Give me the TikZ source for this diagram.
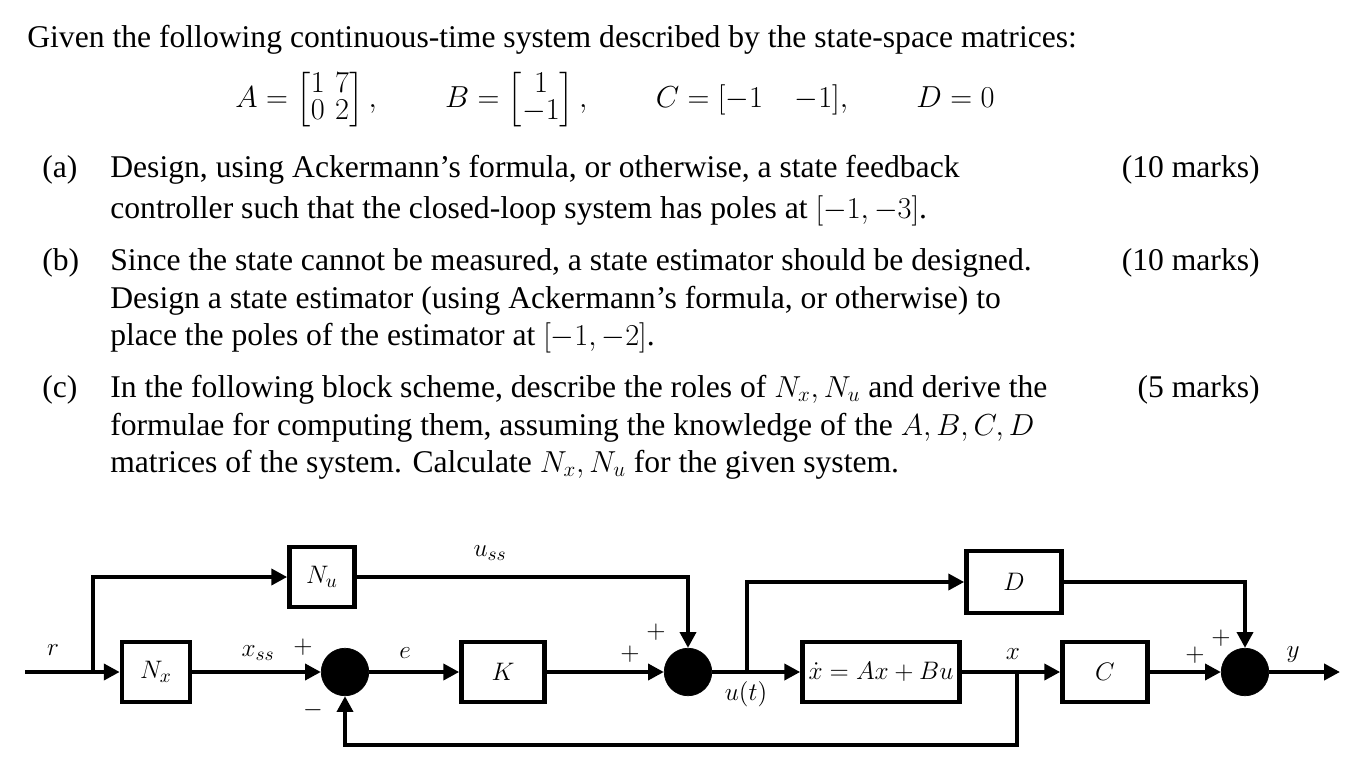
\documentclass[tikz,border=0pt]{standalone}
\usepackage{amsmath}
\usepackage{fontspec}
\setmainfont{Liberation Serif}
\usetikzlibrary{arrows.meta}
\newcommand{\tmat}[2]{\left[\renewcommand{\arraystretch}{0.72}\setlength{\arraycolsep}{3pt}\begin{array}{@{}#1@{}}#2\end{array}\right]}
\begin{document}
\begin{tikzpicture}[x=0.02cm,y=-0.02cm,
  txt/.style={anchor=base west,inner sep=0pt,font=\fontsize{18}{21}\selectfont},
  mk/.style={anchor=base east,inner sep=0pt,font=\fontsize{18}{21}\selectfont},
  blk/.style={draw,line width=2.6pt,minimum width=#1,minimum height=1.2cm,inner sep=0pt,font=\fontsize{15}{17}\selectfont},
  sumj/.style={draw,fill=black,circle,minimum size=0.95cm,inner sep=0pt},
  sig/.style={line width=2.6pt,-{Triangle[length=9pt,width=9pt]}},
  lab/.style={font=\fontsize{15}{17}\selectfont,inner sep=0pt}]
\useasboundingbox (0,0) rectangle (1358,770);
\node[txt] (t0) at (27,48) {Given the following continuous-time system described by the state-space matrices:};
\node[inner sep=0pt,font=\fontsize{18}{21}\selectfont] (mat) at (615,100) {$A=\tmat{cc}{1&7\\0&2},\qquad B=\tmat{c}{1\\-1},\qquad C=[-1\quad {-1}],\qquad D=0$};
\node[txt] (a0) at (42,178) {(a)};
\node[txt] (a1) at (110,178) {Design, using Ackermann's formula, or otherwise, a state feedback};
\node[txt] (a2) at (110,218) {controller such that the closed-loop system has poles at $[-1,-3]$.};
\node[mk] (am) at (1260,178) {(10 marks)};
\node[txt] (b0) at (42,270) {(b)};
\node[txt] (b1) at (110,270) {Since the state cannot be measured, a state estimator should be designed.};
\node[txt] (b2) at (110,308) {Design a state estimator (using Ackermann's formula, or otherwise) to};
\node[txt] (b3) at (110,345) {place the poles of the estimator at $[-1,-2]$.};
\node[mk] (bm) at (1260,270) {(10 marks)};
\node[txt] (c0) at (42,397) {(c)};
\node[txt] (c1) at (110,397) {In the following block scheme, describe the roles of $N_x,N_u$ and derive the};
\node[txt] (c2) at (110,435) {formulae for computing them, assuming the knowledge of the $A,B,C,D$};
\node[txt] (c3) at (110,472) {matrices of the system. Calculate $N_x,N_u$ for the given system.};
\node[mk] (cm) at (1260,397) {(5 marks)};
% diagram
\coordinate (rin) at (25,672);
\coordinate (br1) at (93,672);
\node[blk=1.36cm] (Nx) at (156,672) {$N_x$};
\node[blk=1.3cm] (Nu) at (322,577) {$N_u$};
\node[sumj] (s1) at (345,672) {};
\node[blk=1.66cm] (K) at (503,672) {$K$};
\node[sumj] (s2) at (688,672) {};
\coordinate (br2) at (747,672);
\node[blk=3.14cm] (P) at (881,672) {$\dot x=Ax+Bu$};
\coordinate (br3) at (1017,672);
\node[blk=1.7cm] (Cb) at (1105,672) {$C$};
\node[blk=1.9cm,minimum height=1.24cm] (Db) at (1014,582) {$D$};
\node[sumj] (s3) at (1245,672) {};
\coordinate (yout) at (1340,672);
\draw[sig] (rin) -- (Nx);
\draw[sig] (br1) |- (Nu);
\draw[sig] (Nu) -| (s2);
\draw[sig] (Nx) -- (s1);
\draw[sig] (s1) -- (K);
\draw[sig] (K) -- (s2);
\draw[sig] (s2) -- (P);
\draw[sig] (br2) |- (Db);
\draw[sig] (Db) -| (s3);
\draw[sig] (P) -- (Cb);
\draw[sig] (Cb) -- (s3);
\draw[sig] (s3) -- (yout);
\draw[sig] (br3) -- (1017,745) -| (s1);
\node[lab] (lr) at (53,650) {$r$};
\node[lab] (lxss) at (258,653) {$x_{ss}$};
\node[lab] (p1) at (303,647) {$+$};
\node[lab] (m1) at (313,710) {$-$};
\node[lab] (le) at (405,653) {$e$};
\node[lab] (p2) at (630,654) {$+$};
\node[lab] (p3) at (656,632) {$+$};
\node[lab] (lu) at (746,694) {$u(t)$};
\node[lab] (lx) at (1013,654) {$x$};
\node[lab] (p4) at (1195,655) {$+$};
\node[lab] (p5) at (1221,638) {$+$};
\node[lab] (ly) at (1293,655) {$y$};
\node[lab] (luss) at (490,553) {$u_{ss}$};
\end{tikzpicture}
\end{document}
